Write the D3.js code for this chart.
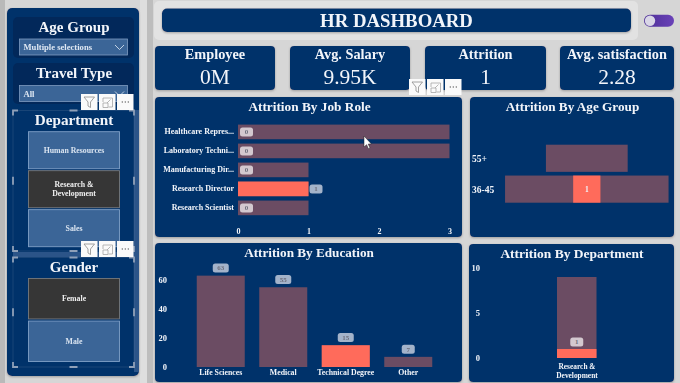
<!DOCTYPE html>
<html>
<head>
<meta charset="utf-8">
<title>HR Dashboard</title>
<script src="https://cdn.jsdelivr.net/npm/d3@7"></script>
<style>
  html, body { margin: 0; padding: 0; background: #d6d6d6; overflow: hidden; }
  svg { display: block; filter: blur(0.3px); }
  text { font-family: "Liberation Serif", "DejaVu Serif", serif; font-weight: bold; fill: #f2f5fa; }
</style>
</head>
<body>
<script>
// Chart values
const kpiNames = ["Employee", "Avg. Salary", "Attrition", "Avg. satisfaction"];
const kpiValues = ["0M", "9.95K", "1", "2.28"];

const jobRoles = ["Healthcare Repres...", "Laboratory Techni...", "Manufacturing Dir...", "Research Director", "Research Scientist"];
const jobTotals = [3, 3, 1, 1, 1];
const jobSelected = [0, 0, 0, 1, 0];
const jobTicks = [0, 1, 2, 3];

const ageGroups = ["55+", "36-45"];
const ageTotals = [3, 6];
const ageSelected = [0, 1];

const eduNames = ["Life Sciences", "Medical", "Technical Degree", "Other"];
const eduTotals = [63, 55, 15, 7];
const eduSelected = [0, 0, 15, 0];
const eduTicks = [0, 20, 40, 60];

const deptNames = ["Research & Development"];
const deptTotals = [9];
const deptSelected = [1];
const deptTicks = [0, 5, 10];

const departments = ["Human Resources", "Research & Development", "Sales"];
const departmentOn = [false, true, false];
const genders = ["Female", "Male"];
const genderOn = [true, false];

const width = 680
const height = 383

const navy = "#03306a";
const muted = "#6b4c63";
const coral = "#ff6b5b";
const slicerBlue = "#3b6597";

const svg = d3.select("body")
  .append("svg")
  .attr("width", width)
  .attr("height", height);

// Soft shadow under the cards
const shadow = svg.append("defs").append("filter")
  .attr("id", "soft")
  .attr("x", "-5%").attr("y", "-5%").attr("width", "110%").attr("height", "115%");
shadow.append("feDropShadow")
  .attr("dx", 0).attr("dy", 1).attr("stdDeviation", 1.2)
  .attr("flood-color", "#777").attr("flood-opacity", 0.6);

function card(x0, y0, x1, y1, fill, r) {
  return svg.append("rect")
    .attr("x", x0).attr("y", y0)
    .attr("width", x1 - x0).attr("height", y1 - y0)
    .attr("rx", r).attr("fill", fill);
}

function label(x, y, str, size, anchor) {
  return svg.append("text")
    .attr("x", x).attr("y", y)
    .attr("font-size", size)
    .attr("text-anchor", anchor || "middle")
    .text(str);
}

// Little rounded data label
function pill(cx, cy, str, light) {
  const w = str.length > 1 ? 16 : 13;
  svg.append("rect")
    .attr("x", cx - w / 2).attr("y", cy - 4.5)
    .attr("width", w).attr("height", 9)
    .attr("rx", 2.5)
    .attr("fill", light ? "#d3c8cf" : "#a3b3ca");
  svg.append("text")
    .attr("x", cx).attr("y", cy + 2.4)
    .attr("font-size", 7)
    .attr("text-anchor", "middle")
    .style("fill", "#6d6f7c")
    .text(str);
}

// Page furniture
card(154, 1, 638, 40, "#e2e2e2", 5);
card(0, 0, 5, height, "#b9b9b9", 0);
card(140, 0, 147, height, "#dedede", 0);
card(147, 0, 153, height, "#bdbdbd", 0);

// Left slicer column
card(7, 8, 139, 376, navy, 5).attr("filter", "url(#soft)");
card(134, 110, 139, 372, "#2b5488", 0);
card(13, 17, 134, 58, "#02285a", 5);
card(13, 63, 134, 104, "#02285a", 5);
card(13, 252, 134, 257, "#2b5488", 0);

label(74, 32, "Age Group", 15);
label(74, 78, "Travel Type", 15);
label(74, 125, "Department", 15.2);
label(74, 272, "Gender", 15);

function dropdown(y0, str) {
  svg.append("rect")
    .attr("x", 19.5).attr("y", y0)
    .attr("width", 108).attr("height", 16)
    .attr("fill", slicerBlue).attr("stroke", "#7f9cc0").attr("stroke-width", 0.8);
  label(23.5, y0 + 11, str, 8.6, "start").style("fill", "#dfe8f3");
  svg.append("path")
    .attr("d", `M${115},${y0 + 6}l4.5,4.5l4.5,-4.5`)
    .attr("fill", "none").attr("stroke", "#cfdcec").attr("stroke-width", 0.9);
}
dropdown(39, "Multiple selections");
dropdown(85.5, "All");

function slicerButtons(names, on, y0, y1, gap) {
  const y = d3.scaleBand().domain(names).range([y0, y1]).paddingInner(gap);
  names.forEach((name, i) => {
    svg.append("rect")
      .attr("x", 28.5).attr("y", y(name))
      .attr("width", 91).attr("height", y.bandwidth())
      .attr("fill", on[i] ? "#363636" : slicerBlue)
      .attr("stroke", on[i] ? "#77797c" : "#7f9fc6")
      .attr("stroke-width", 0.9);
    const cy = y(name) + y.bandwidth() / 2;
    const words = name === "Research & Development" ? ["Research &", "Development"] : [name];
    words.forEach((w, k) => {
      label(74, cy + 2.5 + (k - (words.length - 1) / 2) * 9, w, 7.8)
        .style("fill", on[i] ? "#f0f0f0" : "#dbe5f1");
    });
  });
}
slicerButtons(departments, departmentOn, 131.7, 246.7, 0.05);
slicerButtons(genders, genderOn, 278.5, 361.5, 0.05);

// Focus frame around the two button slicers
function focusFrame(x0, y0, x1, y1) {
  const c = "#8fa0b8";
  svg.append("rect")
    .attr("x", x0).attr("y", y0).attr("width", x1 - x0).attr("height", y1 - y0)
    .attr("fill", "none").attr("stroke", c).attr("stroke-width", 0.5).attr("opacity", 0.35);
  const t = 5;
  svg.append("path")
    .attr("d", `M${x0},${y0 + t}V${y0}H${x0 + t}M${x1 - t},${y0}H${x1}V${y0 + t}M${x1},${y1 - t}V${y1}H${x1 - t}M${x0 + t},${y1}H${x0}V${y1 - t}`)
    .attr("fill", "none").attr("stroke", c).attr("stroke-width", 1.8);
  const mx = (x0 + x1) / 2, my = (y0 + y1) / 2;
  svg.append("path")
    .attr("d", `M${mx - 4},${y0}H${mx + 4}M${mx - 4},${y1}H${mx + 4}M${x0},${my - 4}V${my + 4}M${x1},${my - 4}V${my + 4}`)
    .attr("fill", "none").attr("stroke", c).attr("stroke-width", 1.8);
}
focusFrame(13, 110.5, 134, 251);
focusFrame(13, 257.5, 134, 367);

// Header
card(162, 8.5, 631, 32, navy, 5).attr("filter", "url(#soft)");
label(396.5, 26.5, "HR DASHBOARD", 18.8);

// Toggle
const toggleFill = svg.select("defs").append("linearGradient").attr("id", "toggle");
toggleFill.append("stop").attr("offset", "0%").attr("stop-color", "#4d2f96");
toggleFill.append("stop").attr("offset", "100%").attr("stop-color", "#6a42b8");
card(644, 14.7, 674, 26.7, "url(#toggle)", 6);
svg.append("circle").attr("cx", 650).attr("cy", 20.7).attr("r", 5.2).attr("fill", "#d9d6e6");

// KPI cards
const kpiLeft = [155, 290, 425, 560];
const kpiRight = [275, 410, 546, 674];
kpiNames.forEach((name, i) => {
  card(kpiLeft[i], 46, kpiRight[i], 90, navy, 4).attr("filter", "url(#soft)");
  const mid = (kpiLeft[i] + kpiRight[i]) / 2;
  label(mid, 58.5, name, 14.3);
  label(mid, 84, kpiValues[i], 21.5).style("font-weight", "normal");
});

// Chart cards
card(155, 97, 462, 237, navy, 4).attr("filter", "url(#soft)");
card(470, 97, 674, 237, navy, 4).attr("filter", "url(#soft)");
card(155, 243, 462, 382, navy, 4).attr("filter", "url(#soft)");
card(469, 244, 674, 382, navy, 4).attr("filter", "url(#soft)");

label(309.5, 110.5, "Attrition By Job Role", 13.3);
label(572.5, 110.5, "Attrition By Age Group", 13.2);
label(309, 257, "Attrition By Education", 13.2);
label(572, 257.5, "Attrition By Department", 13.5);

function styleAxis(g, size) {
  g.select(".domain").remove();
  g.selectAll(".tick line").remove();
  g.selectAll("text").attr("font-size", size).style("fill", "#f2f5fa");
}

// Job role bars
const jobX = d3.scaleLinear().domain([0, 3]).range([238, 449.5]);
const jobY = d3.scaleBand().domain(jobRoles).range([124.6, 215.2]).paddingInner(0.23);

svg.append("g").selectAll("rect")
  .data(jobRoles)
  .join("rect")
    .attr("x", jobX(0))
    .attr("y", d => jobY(d))
    .attr("width", (d, i) => jobX(jobTotals[i]) - jobX(0))
    .attr("height", jobY.bandwidth())
    .attr("fill", muted);

svg.append("g").selectAll("rect")
  .data(jobRoles)
  .join("rect")
    .attr("x", jobX(0))
    .attr("y", d => jobY(d))
    .attr("width", (d, i) => jobX(jobSelected[i]) - jobX(0))
    .attr("height", jobY.bandwidth())
    .attr("fill", coral);

jobRoles.forEach((role, i) => {
  const cy = jobY(role) + jobY.bandwidth() / 2;
  if (jobSelected[i] > 0) pill(jobX(jobSelected[i]) + 7.5, cy, String(jobSelected[i]), false);
  else pill(jobX(0) + 8.5, cy, "0", true);
});

svg.append("g")
  .attr("transform", "translate(234,0)")
  .call(d3.axisLeft(jobY).tickSize(0).tickPadding(0))
  .call(styleAxis, 8);

svg.append("g")
  .attr("transform", "translate(0,225)")
  .call(d3.axisBottom(jobX).tickValues(jobTicks).tickFormat(d3.format("d")).tickSize(0))
  .call(styleAxis, 8);

// Age group funnel, centred bars
const ageW = d3.scaleLinear().domain([0, 6]).range([0, 163.5]);
const ageMid = 586.8;
const ageY = d3.scaleBand().domain(ageGroups).range([144.7, 202.7]).paddingInner(0.12);

ageGroups.forEach((group, i) => {
  svg.append("rect")
    .attr("x", ageMid - ageW(ageTotals[i]) / 2).attr("y", ageY(group))
    .attr("width", ageW(ageTotals[i])).attr("height", ageY.bandwidth())
    .attr("fill", muted);
  svg.append("rect")
    .attr("x", ageMid - ageW(ageSelected[i]) / 2).attr("y", ageY(group))
    .attr("width", ageW(ageSelected[i])).attr("height", ageY.bandwidth())
    .attr("fill", coral);
  if (ageSelected[i] > 0) label(ageMid, ageY(group) + ageY.bandwidth() / 2 + 2.5, String(ageSelected[i]), 7.5);
  label(472, ageY(group) + ageY.bandwidth() / 2 + 3.5, group, 9.5, "start");
});

// Education columns
const eduX = d3.scaleBand().domain(eduNames).range([189.5, 439.5]).paddingInner(0.232).paddingOuter(0.116);
const eduY = d3.scaleLinear().domain([0, 60]).range([367, 280]);

svg.append("g").selectAll("rect")
  .data(eduNames)
  .join("rect")
    .attr("x", d => eduX(d))
    .attr("y", (d, i) => eduY(eduTotals[i]))
    .attr("width", eduX.bandwidth())
    .attr("height", (d, i) => eduY(0) - eduY(eduTotals[i]))
    .attr("fill", muted);

svg.append("g").selectAll("rect")
  .data(eduNames)
  .join("rect")
    .attr("x", d => eduX(d))
    .attr("y", (d, i) => eduY(eduSelected[i]))
    .attr("width", eduX.bandwidth())
    .attr("height", (d, i) => eduY(0) - eduY(eduSelected[i]))
    .attr("fill", coral);

eduNames.forEach((name, i) => {
  pill(eduX(name) + eduX.bandwidth() / 2, eduY(eduTotals[i]) - 7.7, String(eduTotals[i]), false);
});

svg.append("g")
  .attr("transform", "translate(167,0)")
  .call(d3.axisLeft(eduY).tickValues(eduTicks).tickSize(0).tickPadding(0))
  .call(styleAxis, 8.5);

svg.append("g")
  .attr("transform", "translate(0,368)")
  .call(d3.axisBottom(eduX).tickSize(0).tickPadding(1))
  .call(styleAxis, 7.8);

// Department column
const deptX = d3.scaleBand().domain(deptNames).range([557, 596.5]);
const deptY = d3.scaleLinear().domain([0, 10]).range([358, 268]);

svg.append("g").selectAll("rect")
  .data(deptNames)
  .join("rect")
    .attr("x", d => deptX(d))
    .attr("y", (d, i) => deptY(deptTotals[i]))
    .attr("width", deptX.bandwidth())
    .attr("height", (d, i) => deptY(0) - deptY(deptTotals[i]))
    .attr("fill", muted);

svg.append("g").selectAll("rect")
  .data(deptNames)
  .join("rect")
    .attr("x", d => deptX(d))
    .attr("y", (d, i) => deptY(deptSelected[i]))
    .attr("width", deptX.bandwidth())
    .attr("height", (d, i) => deptY(0) - deptY(deptSelected[i]))
    .attr("fill", coral);

pill(deptX(deptNames[0]) + deptX.bandwidth() / 2, deptY(deptSelected[0]) - 7, String(deptSelected[0]), true);

svg.append("g")
  .attr("transform", "translate(480,0)")
  .call(d3.axisLeft(deptY).tickValues(deptTicks).tickSize(0).tickPadding(0))
  .call(styleAxis, 8.5);

label(577, 369, "Research &", 7.4);
label(577, 377.5, "Development", 7.4);

// Visual header toolbars
function toolbar(x0, y0) {
  const boxes = d3.range(3).map(i => x0 + i * 18);
  svg.append("g").selectAll("rect")
    .data(boxes)
    .join("rect")
      .attr("x", d => d).attr("y", y0)
      .attr("width", 16.5).attr("height", 16)
      .attr("fill", "#fafafa");
  const ink = "#8a8a8a";
  svg.append("path")
    .attr("d", `M${x0 + 3},${y0 + 3}h10.5l-4,5v5.5l-2.5,-1.5v-4z`)
    .attr("fill", "none").attr("stroke", ink).attr("stroke-width", 0.8);
  svg.append("path")
    .attr("d", `M${x0 + 22},${y0 + 8}v-4h9.5v9h-4M${x0 + 22},${y0 + 9}h5v4.5h-5zM${x0 + 26},${y0 + 9}l3.5,-3.5`)
    .attr("fill", "none").attr("stroke", "#a5a5a5").attr("stroke-width", 0.8);
  svg.append("g").selectAll("circle")
    .data([-3, 0, 3])
    .join("circle")
      .attr("cx", d => x0 + 44.3 + d).attr("cy", y0 + 8)
      .attr("r", 0.7).attr("fill", "#666");
}
toolbar(81, 94);
toolbar(81, 241);
toolbar(409, 79);

// Mouse pointer over the job role chart
svg.append("path")
  .attr("d", "M364,136l0,11l2.6,-2.3l1.8,4l1.6,-0.8l-1.8,-3.8l3.2,-0.2z")
  .attr("fill", "#fff").attr("stroke", "#222").attr("stroke-width", 0.5);
</script>
</body>
</html>
